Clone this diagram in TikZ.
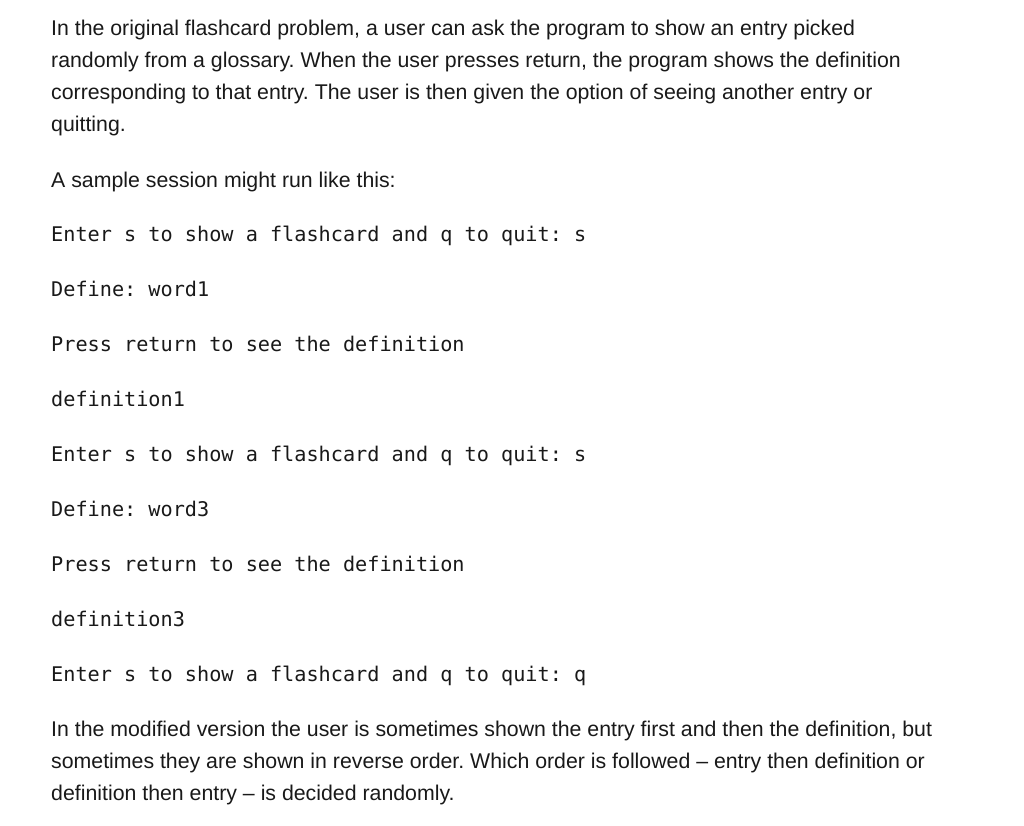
\documentclass[tikz,border=0pt]{standalone}
\usepackage{fontspec}
\setmainfont{Liberation Sans}
\newfontfamily\monof{DejaVu Sans Mono}
\frenchspacing
\begin{document}
\frenchspacing
\begin{tikzpicture}[x=1pt,y=-1pt,
  prose/.style={anchor=base west,inner sep=0pt,font=\frenchspacing\fontsize{21.3}{24}\selectfont,text=black!90},
  code/.style={anchor=base west,inner sep=0pt,font=\frenchspacing\monof\fontsize{20.2}{24}\selectfont,text=black!90}]
\useasboundingbox[fill=white] (0,0) rectangle (1024,825);
\node[prose] (p1) at (51,35) {In the original flashcard problem, a user can ask the program to show an entry picked};
\node[prose] (p2) at (51,67) {randomly from a glossary. When the user presses return, the program shows the definition};
\node[prose] (p3) at (51,99) {corresponding to that entry. The user is then given the option of seeing another entry or};
\node[prose] (p4) at (51,131) {quitting.};
\node[prose] (p5) at (51,187) {A sample session might run like this:};
\node[code] (c1) at (51,241) {Enter s to show a flashcard and q to quit: s};
\node[code] (c2) at (51,296) {Define: word1};
\node[code] (c3) at (51,351) {Press return to see the definition};
\node[code] (c4) at (51,406) {definition1};
\node[code] (c5) at (51,461) {Enter s to show a flashcard and q to quit: s};
\node[code] (c6) at (51,516) {Define: word3};
\node[code] (c7) at (51,571) {Press return to see the definition};
\node[code] (c8) at (51,626) {definition3};
\node[code] (c9) at (51,681) {Enter s to show a flashcard and q to quit: q};
\node[prose] (q1) at (51,736) {In the modified version the user is sometimes shown the entry first and then the definition, but};
\node[prose] (q2) at (51,768) {sometimes they are shown in reverse order. Which order is followed -- entry then definition or};
\node[prose] (q3) at (51,800) {definition then entry -- is decided randomly.};
\end{tikzpicture}
\end{document}
